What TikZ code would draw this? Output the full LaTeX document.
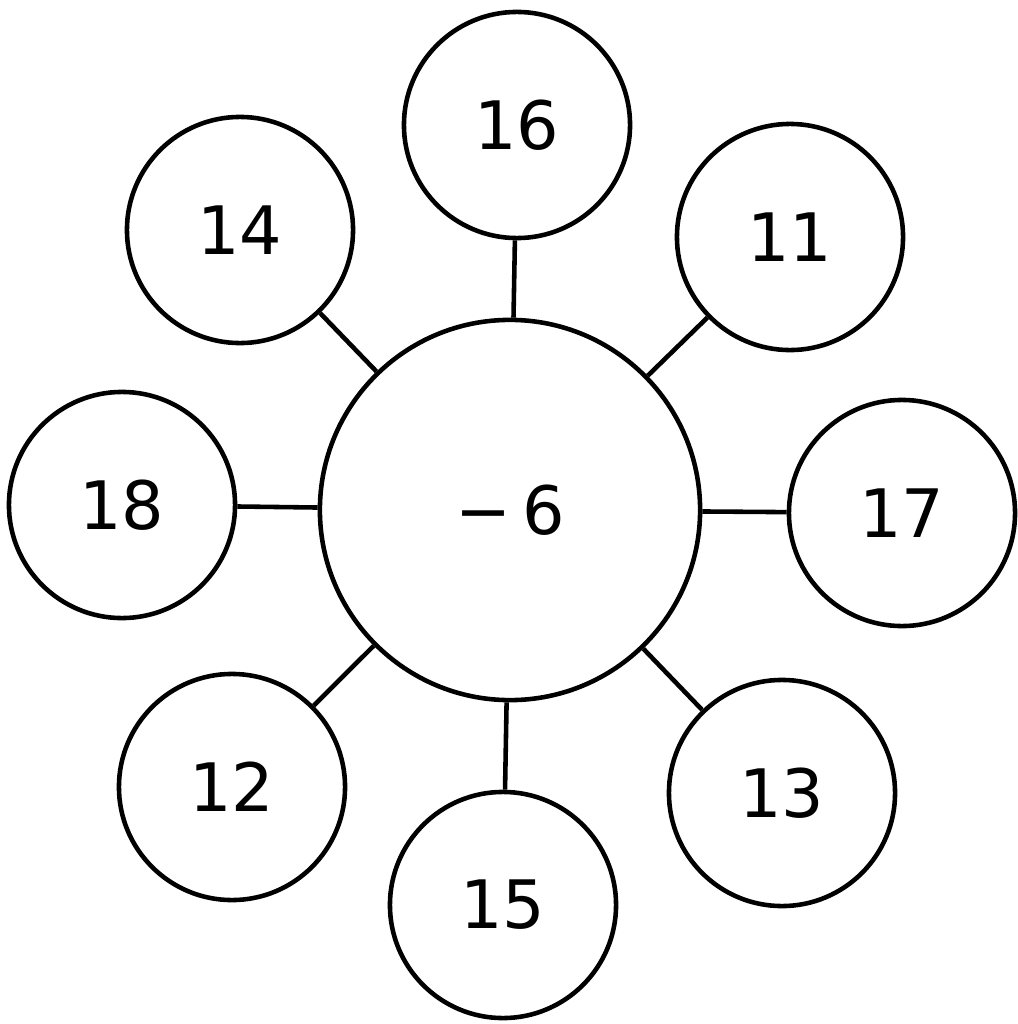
\documentclass[tikz,border=0pt]{standalone}
\usepackage{fontspec}
\setmainfont{DejaVu Sans}
\usetikzlibrary{positioning}
\begin{document}
\begin{tikzpicture}[
			x = 0.01cm, y = -0.01cm,
			line/.style = {line width = 1.3pt, draw = black},
			hub/.style = {
				line, circle, minimum size = 3.8cm, inner sep = 0,
				font = \fontsize{19}{19}\selectfont,
			},
			leaf/.style = {
				line, circle, minimum size = 2.26cm, inner sep = 0,
				font = \fontsize{19}{19}\selectfont,
			},
		]
		\useasboundingbox (0,0) rectangle (1018,1024);

		\node[hub] (C) at (510,510) {−\,6};

		\foreach \name/\x/\y/\val in {
				n16/517/125/16, n11/790/237/11, n17/902/513/17, n13/782/793/13,
				n15/503/905/15, n12/232/787/12, n18/122/505/18, n14/240/230/14} {
			\node[leaf] (\name) at (\x,\y) {\val};
			\draw[line] (C) to (\name);
		}

	\end{tikzpicture}
\end{document}
